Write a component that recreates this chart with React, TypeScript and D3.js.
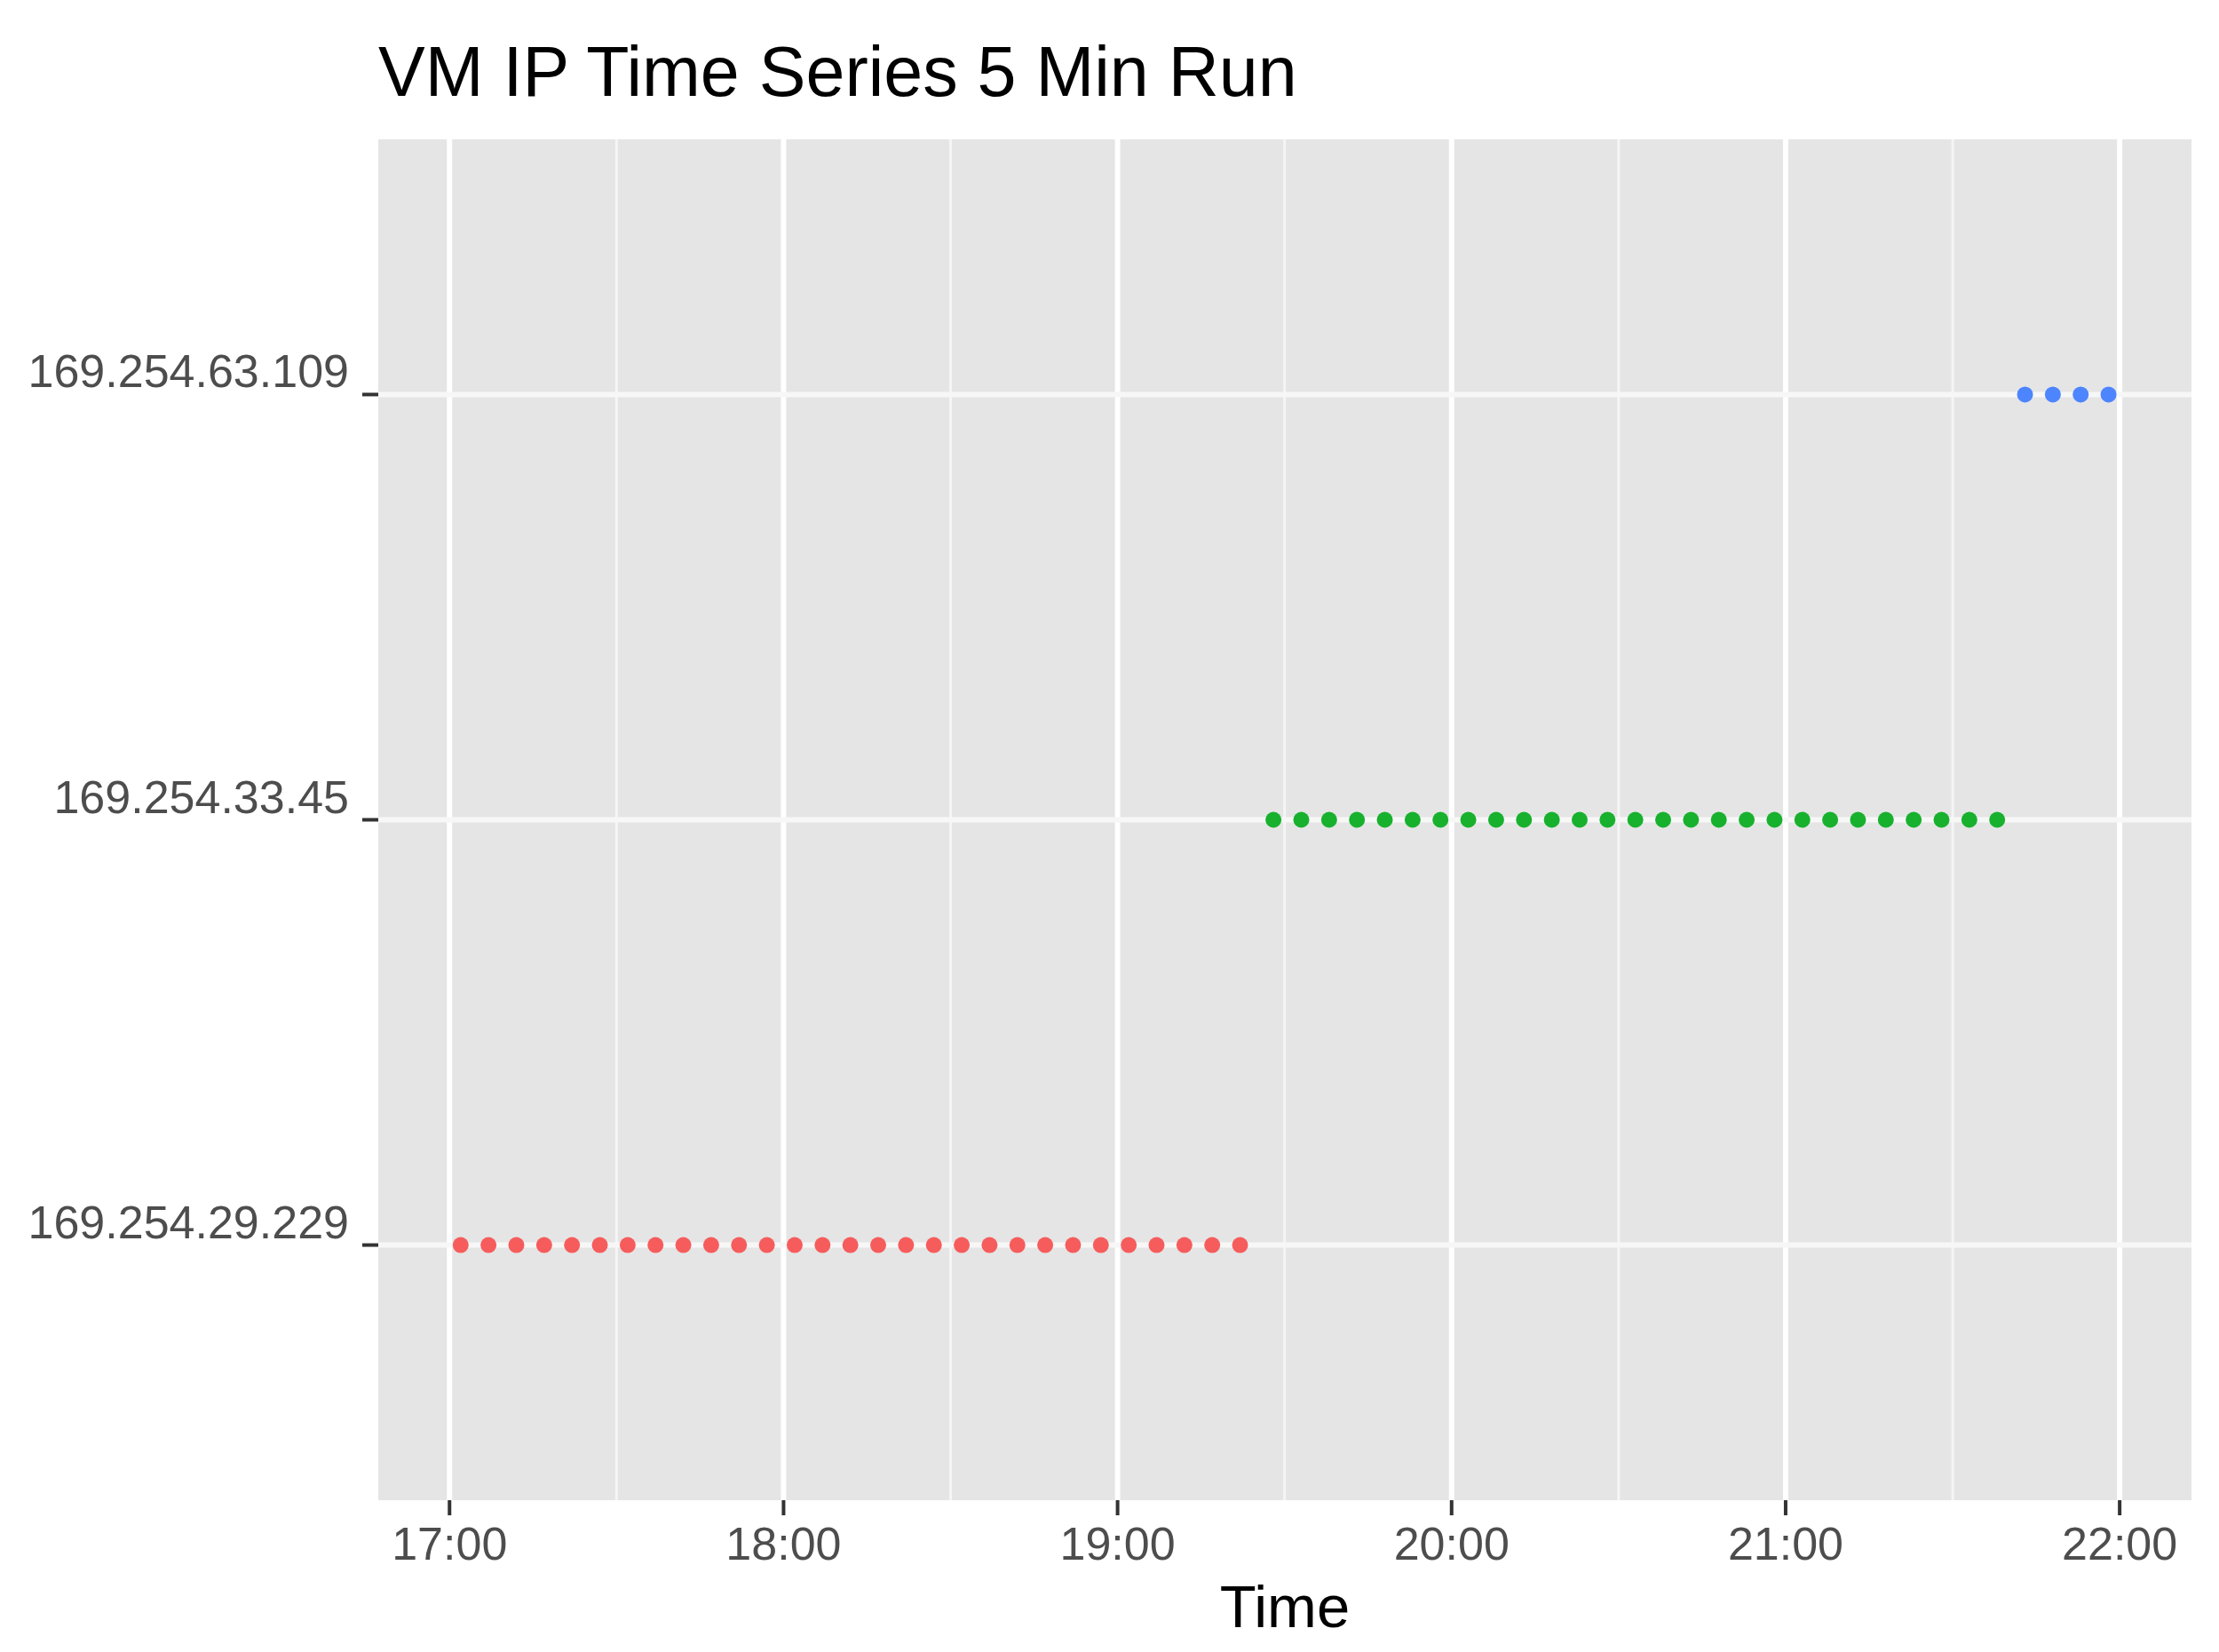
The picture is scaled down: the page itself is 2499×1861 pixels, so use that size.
import React from 'react'
import * as d3 from 'd3'

// ip addresses, bottom to top
const ips = ['169.254.29.229', '169.254.33.45', '169.254.63.109']

const redTimes = ['17:02', '17:07', '17:12', '17:17', '17:22', '17:27', '17:32', '17:37', '17:42', '17:47', '17:52', '17:57',
  '18:02', '18:07', '18:12', '18:17', '18:22', '18:27', '18:32', '18:37', '18:42', '18:47', '18:52', '18:57',
  '19:02', '19:07', '19:12', '19:17', '19:22']
const greenTimes = ['19:28', '19:33', '19:38', '19:43', '19:48', '19:53', '19:58',
  '20:03', '20:08', '20:13', '20:18', '20:23', '20:28', '20:33', '20:38', '20:43', '20:48', '20:53', '20:58',
  '21:03', '21:08', '21:13', '21:18', '21:23', '21:28', '21:33', '21:38']
const blueTimes = ['21:43', '21:48', '21:53', '21:58']

const xTicks = ['17:00', '18:00', '19:00', '20:00', '21:00', '22:00']
const xMinor = ['17:30', '18:30', '19:30', '20:30', '21:30']
const xLimits = ['16:47:12', '22:12:54']

const seriesColors = ['#F65C5C', '#18B12E', '#4D85FF']

const parseHM = d3.timeParse('%H:%M')
const parseHMS = d3.timeParse('%H:%M:%S')

export default function App() {
  const width = 2499
  const height = 1861
  const left = 426, right = 2468, top = 157, bottom = 1690

  const x = d3.scaleTime()
    .domain(xLimits.map(t => parseHMS(t) as Date))
    .range([left, right])

  const y = d3.scalePoint<string>()
    .domain(ips)
    .range([bottom, top])
    .padding(0.6)

  const series = [
    { ip: ips[0], times: redTimes, color: seriesColors[0] },
    { ip: ips[1], times: greenTimes, color: seriesColors[1] },
    { ip: ips[2], times: blueTimes, color: seriesColors[2] },
  ]

  const font = '"Liberation Sans", Arial, Helvetica, sans-serif'

  return (
    <div style={{ position: 'absolute', left: 0, top: 0 }}>
      <svg width={width} height={height} style={{ display: 'block', background: '#fff' }}>
        <text x={left} y={108} fontFamily={font} fontSize={79} fill="#000">VM IP Time Series 5 Min Run</text>

        <rect x={left} y={top} width={right - left} height={bottom - top} fill="#E5E5E5" />

        {xMinor.map(t => (
          <line key={'mi' + t} x1={x(parseHM(t) as Date)} x2={x(parseHM(t) as Date)} y1={top} y2={bottom}
            stroke="#F5F5F5" strokeWidth={3} />
        ))}
        {xTicks.map(t => (
          <line key={'ma' + t} x1={x(parseHM(t) as Date)} x2={x(parseHM(t) as Date)} y1={top} y2={bottom}
            stroke="#FFFFFF" strokeWidth={6} />
        ))}
        {ips.map(ip => (
          <line key={'h' + ip} x1={left} x2={right} y1={y(ip)} y2={y(ip)} stroke="#F7F7F7" strokeWidth={6} />
        ))}

        {series.map(s => (
          <g key={s.ip}>
            {s.times.map(t => (
              <circle key={t} cx={x(parseHM(t) as Date)} cy={y(s.ip)} r={9} fill={s.color} />
            ))}
          </g>
        ))}

        {/* y axis */}
        {ips.map(ip => (
          <g key={'yl' + ip}>
            <line x1={408} x2={left} y1={y(ip)} y2={y(ip)} stroke="#333" strokeWidth={4} />
            <text x={393} y={(y(ip) as number) - 8} textAnchor="end" fontFamily={font} fontSize={52} fill="#4D4D4D">{ip}</text>
          </g>
        ))}

        {/* x axis */}
        {xTicks.map(t => (
          <g key={'xl' + t}>
            <line x1={x(parseHM(t) as Date)} x2={x(parseHM(t) as Date)} y1={bottom} y2={bottom + 17} stroke="#333" strokeWidth={4} />
            <text x={x(parseHM(t) as Date)} y={1757} textAnchor="middle" fontFamily={font} fontSize={52} fill="#4D4D4D">{t}</text>
          </g>
        ))}

        <text x={(left + right) / 2} y={1833} textAnchor="middle" fontFamily={font} fontSize={67} fill="#000">Time</text>
      </svg>
    </div>
  )
}
